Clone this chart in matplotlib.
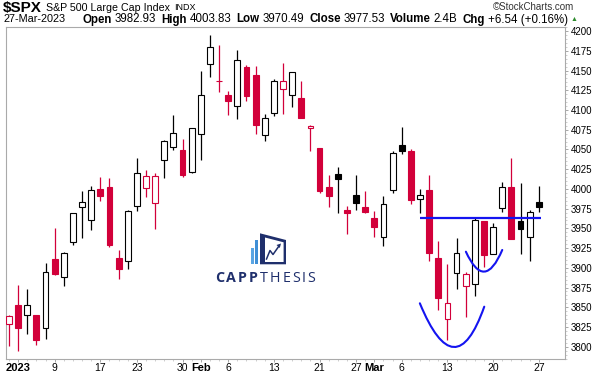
import numpy as np
import pandas as pd
import matplotlib
matplotlib.use("Agg")
import matplotlib.pyplot as plt
from matplotlib.path import Path
from matplotlib.patches import PathPatch, Polygon, Rectangle

FONT = ["Liberation Sans", "DejaVu Sans"]
plt.rcParams["font.family"] = FONT

# S&P 500 daily candles, 30-Dec-2022 .. 27-Mar-2023
prev_close = 3849.28
opens = [3829.06, 3853.29, 3840.36, 3839.74, 3823.37, 3910.82, 3888.57, 3932.35, 3977.57, 3960.60,
         3999.28, 4002.25, 3911.84, 3909.04, 3978.14, 4001.74, 3982.71, 4036.08, 4053.72, 4049.27,
         4020.85, 4070.07, 4158.68, 4136.69, 4119.57, 4105.35, 4153.97, 4144.25, 4068.47, 4096.62,
         4126.70, 4119.50, 4114.75, 4077.39, 4052.35, 4001.83, 4018.60, 3973.24, 3992.36, 3977.19,
         3963.34, 3938.68, 3998.02, 4055.15, 4048.26, 3987.55, 3998.66, 3912.77, 3835.12, 3894.01,
         3876.74, 3878.93, 3958.69, 3917.47, 3975.89, 4002.04, 3959.21, 3939.21, 3982.93]
highs = [3839.85, 3878.46, 3873.16, 3839.74, 3906.19, 3950.57, 3919.83, 3970.07, 3997.76, 4003.95,
         4015.39, 4014.16, 3922.94, 3972.96, 4039.31, 4023.92, 4019.55, 4061.57, 4094.21, 4063.85,
         4077.16, 4148.95, 4195.44, 4182.36, 4124.63, 4176.54, 4156.85, 4156.23, 4094.36, 4138.90,
         4159.77, 4148.11, 4136.54, 4081.51, 4052.35, 4017.37, 4028.30, 3978.25, 4018.05, 3997.50,
         3971.73, 3990.84, 4048.29, 4078.49, 4050.00, 4000.41, 4017.81, 3934.05, 3905.05, 3937.29,
         3894.26, 3964.46, 3958.91, 3956.62, 4009.08, 4039.49, 4007.66, 3972.74, 4003.83]
lows = [3800.34, 3794.33, 3815.77, 3802.42, 3809.56, 3890.42, 3877.29, 3928.54, 3937.56, 3947.67,
        3984.57, 3926.59, 3885.54, 3897.86, 3971.64, 3989.79, 3949.06, 4013.29, 4048.70, 4015.55,
        4020.44, 4037.20, 4141.88, 4123.36, 4093.38, 4088.39, 4111.67, 4069.67, 4060.79, 4092.67,
        4095.01, 4103.98, 4089.49, 4047.95, 3995.19, 3976.90, 3969.19, 3943.08, 3973.55, 3968.98,
        3939.05, 3928.16, 3995.17, 4044.61, 3980.31, 3969.76, 3908.70, 3846.32, 3808.86, 3873.63,
        3838.24, 3864.11, 3901.27, 3916.89, 3971.19, 3936.17, 3917.00, 3909.16, 3970.49]
closes = [3839.50, 3824.14, 3852.97, 3808.10, 3895.08, 3892.09, 3919.25, 3969.61, 3983.17, 3999.09,
          3990.97, 3928.86, 3898.85, 3972.61, 4019.81, 4016.95, 4016.22, 4060.43, 4070.56, 4017.77,
          4076.60, 4119.21, 4179.76, 4136.48, 4111.08, 4164.00, 4117.86, 4081.50, 4090.46, 4137.29,
          4136.13, 4147.60, 4090.41, 4079.09, 3997.34, 3991.05, 4012.32, 3970.04, 3982.24, 3970.15,
          3951.39, 3981.35, 4045.64, 4048.42, 3986.37, 3992.01, 3918.32, 3861.59, 3855.76, 3919.29,
          3891.93, 3960.28, 3916.64, 3951.57, 4002.87, 3936.97, 3948.72, 3970.99, 3977.53]

holidays = ["2023-01-02", "2023-01-16", "2023-02-20"]
dates = [d for d in pd.bdate_range("2022-12-30", "2023-03-27") if d.strftime("%Y-%m-%d") not in holidays]

# x-axis labels (date -> text)
tick_dates = ["2023-01-03", "2023-01-09", "2023-01-17", "2023-01-23", "2023-01-30", "2023-02-01",
              "2023-02-06", "2023-02-13", "2023-02-21", "2023-02-27", "2023-03-01", "2023-03-06",
              "2023-03-13", "2023-03-20", "2023-03-27"]
tick_text = ["2023", "9", "17", "23", "30", "Feb", "6", "13", "21", "27", "Mar", "6", "13", "20", "27"]
bold_ticks = ["2023", "Feb", "Mar"]

# annotations drawn on the chart
resistance = 3963.5
res_from, res_to = "2023-03-08", "2023-03-27"
big_cup = [(44.98, 3855.0), (48.85, 3746.3), (52.03, 3850.7)]
small_cup = [(50.02, 3920.4), (52.04, 3868.8), (54.0, 3922.6)]

RED = "#d2003a"
BLUE = "#1414f0"
NAVY = "#1f2f6c"

W, H = 594, 373
fig = plt.figure(figsize=(W / 100, H / 100), dpi=100)
ax = fig.add_axes([5.7 / W, 1 - 359 / H, (565 - 5.7) / W, (359 - 27) / H])

x = np.arange(len(dates))
o = np.array(opens); h = np.array(highs); l = np.array(lows); c = np.array(closes)
prev = np.concatenate([[prev_close], c[:-1]])
cols = np.where(c < prev, RED, "black")
filled = c < o

ax.vlines(x, l, h, colors=cols, lw=0.9, zorder=2)
face = [col if f else "white" for col, f in zip(cols, filled)]
ax.bar(x, np.maximum(np.abs(c - o), 0.3), bottom=np.minimum(o, c), width=0.64,
       color=face, edgecolor=cols, linewidth=0.8, zorder=3)

# blue annotations
idx = {d.strftime("%Y-%m-%d"): i for i, d in enumerate(dates)}
ax.hlines(resistance, idx[res_from] - 0.02, idx[res_to] + 0.2, colors=BLUE, lw=1.6, zorder=4)
for pts in (big_cup, small_cup):
    p = PathPatch(Path(pts, [Path.MOVETO, Path.CURVE3, Path.CURVE3]), fill=False,
                  edgecolor=BLUE, lw=1.5, zorder=4, capstyle="round")
    ax.add_patch(p)

ax.set_xlim(-0.36, 60.87)
ax.set_ylim(3784.4, 4205.2)

ax.yaxis.tick_right()
ax.set_yticks(np.arange(3800, 4201, 25))
ax.set_yticks(np.arange(3785, 4206, 5), minor=True)
ax.tick_params(axis="y", which="major", labelsize=7, length=2.5, width=0.6, color="#999999", pad=1.5)
ax.tick_params(axis="y", which="minor", length=1.2, width=0.5, color="#bbbbbb")

ax.set_xticks([idx[d] for d in tick_dates])
ax.set_xticklabels(tick_text)
ax.set_xticks(x, minor=True)
ax.tick_params(axis="x", which="major", labelsize=7.5, length=2.5, width=0.6, color="#999999", pad=0.5)
ax.tick_params(axis="x", which="minor", length=1.5, width=0.5, color="#bbbbbb")
for t in ax.get_xticklabels():
    if t.get_text() in bold_ticks:
        t.set_fontweight("bold")
        t.set_fontsize(8)

for s in ax.spines.values():
    s.set_color("#aaaaaa")
    s.set_linewidth(0.8)

# header
renderer = fig.canvas.get_renderer()


def put_runs(xp, yp, parts, target=None):
    for txt, bold, size, gap, col in parts:
        t = target.text(xp / W, 1 - yp / H, txt, fontsize=size, color=col,
                        fontweight="bold" if bold else "normal", va="center", ha="left")
        xp = t.get_window_extent(renderer).x1 + gap


put_runs(3, 8, [("$SPX", True, 11, 4, "black"),
                ("S&P 500 Large Cap Index", False, 7.7, 4, "black"),
                ("INDX", False, 6.5, 0, "black")], fig)
fig.text(574 / W, 1 - 7 / H, "\u00a9StockCharts.com", fontsize=7, ha="right", va="center",
         color="#333333")
fig.text(3 / W, 1 - 19.5 / H, "27-Mar-2023", fontsize=7.8, va="center", ha="left")
vals = [("Open", "3982.93"), ("High", "4003.83"), ("Low", "3970.49"), ("Close", "3977.53"),
        ("Volume", "2.4B"), ("Chg", "+6.54 (+0.16%)")]
runs = []
for lab, v in vals:
    runs += [(lab, True, 8.3, 2.5, "black"), (v, False, 8.3, 5.5, "black")]
runs[-1] = (runs[-1][0], False, 8.3, 2.5, "black")
runs.append(("\u25b2", False, 5, 0, "#2e8b2e"))
put_runs(82.6, 19.5, runs, fig)

# CAPPTHESIS watermark
lg = fig.add_axes([210 / W, 1 - 290 / H, 112 / W, 62 / H])
lg.set_xlim(210, 322)
lg.set_ylim(290, 228)
lg.axis("off")
lg.add_patch(Rectangle((250.7, 247.7), 2.8, 16.6, color="#5aa5e3", lw=0))
lg.add_patch(Rectangle((255.0, 240.0), 3.3, 24.3, color="#3f8fd6", lw=0))
lg.add_patch(Polygon([(260, 233.3), (286, 240), (286, 264.3), (260, 264.3)], color=NAVY, lw=0))
lg.add_patch(Polygon([(265, 237.5), (283.6, 242.3), (283.6, 262), (265, 262)], color="white", lw=0))
lg.plot([266.5, 270, 273, 279], [259, 250.5, 254.5, 246], color=NAVY, lw=1.1)
lg.add_patch(Polygon([(281, 243.5), (276.5, 245), (279.8, 248)], color=NAVY, lw=0))
xp = 215.0
for i, ch in enumerate("CAPPTHESIS"):
    t = fig.text(xp / W, 1 - 278 / H, ch, fontsize=10.3, color=NAVY, va="center", ha="left",
                 fontweight="bold" if i < 4 else "normal", family="Open Sans")
    xp = t.get_window_extent(renderer).x1 + 2.0

fig.savefig("out.png", dpi=100)
